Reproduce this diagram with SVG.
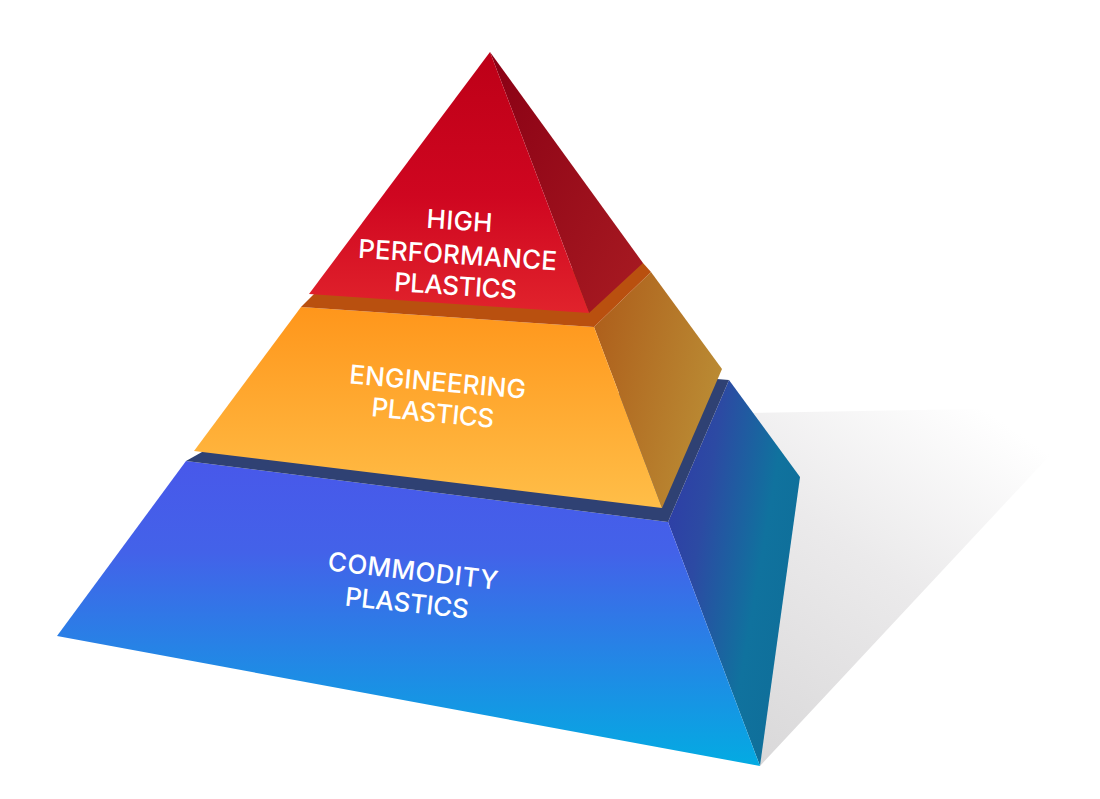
<svg xmlns="http://www.w3.org/2000/svg" width="1100" height="799" viewBox="0 0 1100 799">
<defs>
<linearGradient id="gShadow" x1="760" y1="766" x2="1000" y2="420" gradientUnits="userSpaceOnUse"><stop offset="0" stop-color="#d9d8d9"/><stop offset="0.55" stop-color="#ebeaeb"/><stop offset="1" stop-color="#ffffff"/></linearGradient>
<linearGradient id="gRedFront" x1="0" y1="0" x2="0" y2="1"><stop offset="0" stop-color="#bd0017"/><stop offset="0.55" stop-color="#cf0620"/><stop offset="1" stop-color="#e1232c"/></linearGradient>
<linearGradient id="gRedSide" x1="0" y1="0" x2="1" y2="1"><stop offset="0" stop-color="#8a0014"/><stop offset="1" stop-color="#a81b22"/></linearGradient>
<linearGradient id="gOrFront" x1="0" y1="0" x2="0" y2="1"><stop offset="0" stop-color="#ff961b"/><stop offset="1" stop-color="#ffbe48"/></linearGradient>
<linearGradient id="gOrSide" x1="0" y1="0" x2="1" y2="0.4"><stop offset="0" stop-color="#ad5c1a"/><stop offset="1" stop-color="#ba8a33"/></linearGradient>
<linearGradient id="gBlFront" x1="0" y1="0" x2="0" y2="1"><stop offset="0" stop-color="#4858ea"/><stop offset="0.3" stop-color="#4362e9"/><stop offset="1" stop-color="#03abe2"/></linearGradient>
<linearGradient id="gBlSide" x1="0" y1="0" x2="1" y2="0.5"><stop offset="0" stop-color="#2f38a8"/><stop offset="0.35" stop-color="#2c4aa3"/><stop offset="0.75" stop-color="#10729e"/><stop offset="1" stop-color="#0f6f9a"/></linearGradient>
<style>
.lbl{font-family:Inter,"Noto Sans","Liberation Sans",sans-serif;font-weight:500;font-size:26px;fill:#ffffff;text-anchor:middle}
</style>
</defs>
<g id="shadow">
<polygon points="745,413 1095,407 760,766 770,600" fill="url(#gShadow)"/>
</g>
<g id="commodity">
<polygon points="668,522 729,380 800,477 760,766" fill="url(#gBlSide)"/>
<polygon points="186,461 668,522 760,766 57,636" fill="url(#gBlFront)"/>
<polygon points="202,452 186,461 668,522 729,380 717,379" fill="#2f4173"/>
<text class="lbl" transform="rotate(6.5 412 580)" x="412" y="580" textLength="171" lengthAdjust="spacing">COMMODITY</text>
<text class="lbl" transform="rotate(6 406 612)" x="406" y="612" textLength="124" lengthAdjust="spacing">PLASTICS</text>
</g>
<g id="engineering">
<polygon points="594,327 651,272 722,369 662,508" fill="url(#gOrSide)"/>
<polygon points="301,307 594,327 662,508 194,451" fill="url(#gOrFront)"/>
<polygon points="301,307 594,327 651,272 643,263 316,292" fill="#b9500f"/>
<text class="lbl" transform="rotate(5 437 391)" x="437" y="391" textLength="177" lengthAdjust="spacing">ENGINEERING</text>
<text class="lbl" transform="rotate(5.5 432 422)" x="432" y="422" textLength="123" lengthAdjust="spacing">PLASTICS</text>
</g>
<g id="high-performance">
<polygon points="490,52 643,263 589,313" fill="url(#gRedSide)"/>
<polygon points="490,52 309,294 589,313" fill="url(#gRedFront)"/>
<text class="lbl" transform="rotate(3.7 459 230)" x="459" y="230" textLength="66" lengthAdjust="spacing">HIGH</text>
<text class="lbl" transform="rotate(3.6 457 264)" x="457" y="264" textLength="199" lengthAdjust="spacing">PERFORMANCE</text>
<text class="lbl" transform="rotate(3.7 455 295)" x="455" y="295" textLength="123" lengthAdjust="spacing">PLASTICS</text>
</g>
<g id="connectors"/>
</svg>
